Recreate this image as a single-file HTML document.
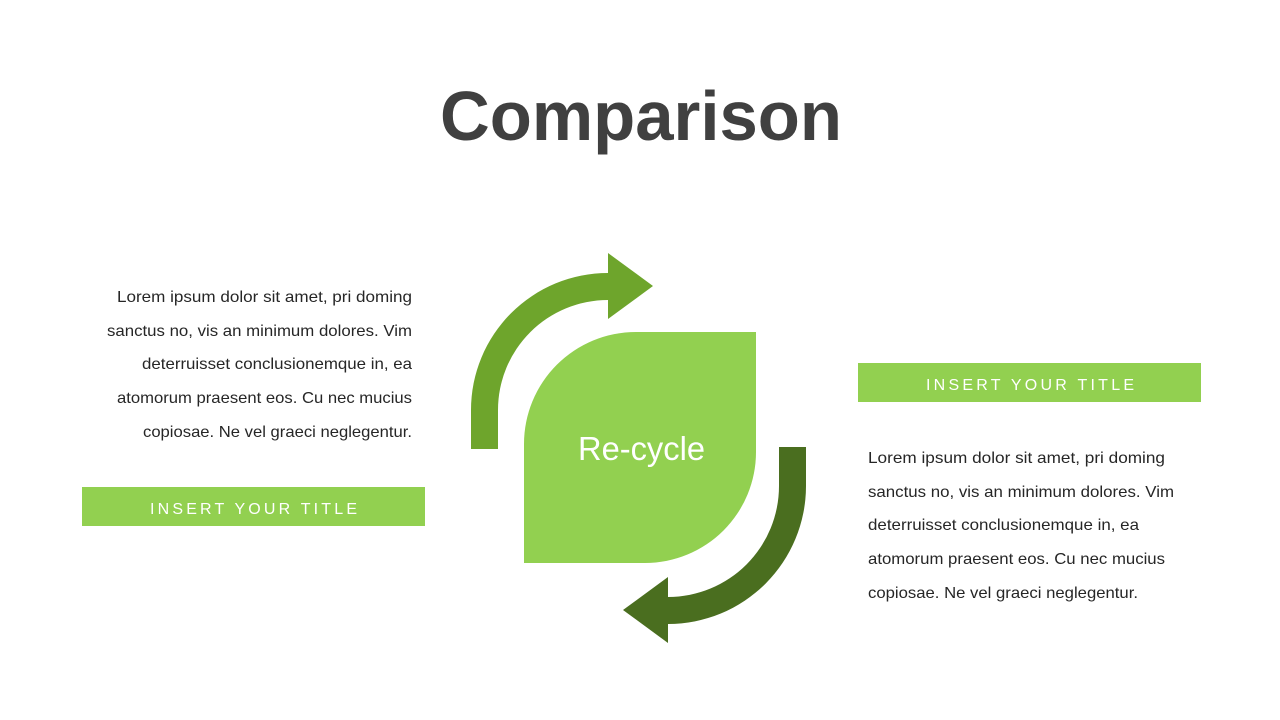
<!DOCTYPE html>
<html><head><meta charset="utf-8"><style>html,body{margin:0;padding:0;background:#fff}svg{display:block}</style></head>
<body>
<svg width="1280" height="720" viewBox="0 0 1280 720" xmlns="http://www.w3.org/2000/svg" font-family="Liberation Sans, sans-serif">
<rect width="1280" height="720" fill="#fff"/>
<text x="440" y="140" font-size="70" font-weight="bold" fill="#404040" textLength="402" lengthAdjust="spacingAndGlyphs">Comparison</text>
<path d="M471,449 L471,410 A137,137 0 0 1 608,273 L608,253 L653,286 L608,319 L608,300 A110,110 0 0 0 498,410 L498,449 Z" fill="#6ea52c"/>
<path d="M806,447 L806,486 A138,138 0 0 1 668,624 L668,643 L623,610 L668,577 L668,597 A111,111 0 0 0 779,486 L779,447 Z" fill="#4a6e1f"/>
<path d="M636,332 L756,332 L756,452 A111,111 0 0 1 645,563 L524,563 L524,444 A112,112 0 0 1 636,332 Z" fill="#92d050"/>
<text x="578" y="460" font-size="33" fill="#fff" textLength="127" lengthAdjust="spacingAndGlyphs">Re-cycle</text>
<g font-size="16" fill="#262626">
<text x="117" y="302" textLength="295" lengthAdjust="spacingAndGlyphs">Lorem ipsum dolor sit amet, pri doming</text>
<text x="107" y="336" textLength="305" lengthAdjust="spacingAndGlyphs">sanctus no, vis an minimum dolores. Vim</text>
<text x="142" y="369" textLength="270" lengthAdjust="spacingAndGlyphs">deterruisset conclusionemque in, ea</text>
<text x="117" y="403" textLength="295" lengthAdjust="spacingAndGlyphs">atomorum praesent eos. Cu nec mucius</text>
<text x="143" y="437" textLength="269" lengthAdjust="spacingAndGlyphs">copiosae. Ne vel graeci neglegentur.</text>
</g>
<g font-size="16" fill="#262626">
<text x="868" y="463" textLength="297" lengthAdjust="spacingAndGlyphs">Lorem ipsum dolor sit amet, pri doming</text>
<text x="868" y="497" textLength="306" lengthAdjust="spacingAndGlyphs">sanctus no, vis an minimum dolores. Vim</text>
<text x="868" y="530" textLength="271" lengthAdjust="spacingAndGlyphs">deterruisset conclusionemque in, ea</text>
<text x="868" y="564" textLength="297" lengthAdjust="spacingAndGlyphs">atomorum praesent eos. Cu nec mucius</text>
<text x="868" y="598" textLength="270" lengthAdjust="spacingAndGlyphs">copiosae. Ne vel graeci neglegentur.</text>
</g>
<rect x="82" y="487" width="343" height="39" fill="#92d050"/>
<text x="150" y="514" font-size="16" fill="#fff" textLength="207" lengthAdjust="spacing">INSERT YOUR TITLE</text>
<rect x="858" y="363" width="343" height="39" fill="#92d050"/>
<text x="926" y="390" font-size="16" fill="#fff" textLength="208" lengthAdjust="spacing">INSERT YOUR TITLE</text>
</svg>
</body></html>
